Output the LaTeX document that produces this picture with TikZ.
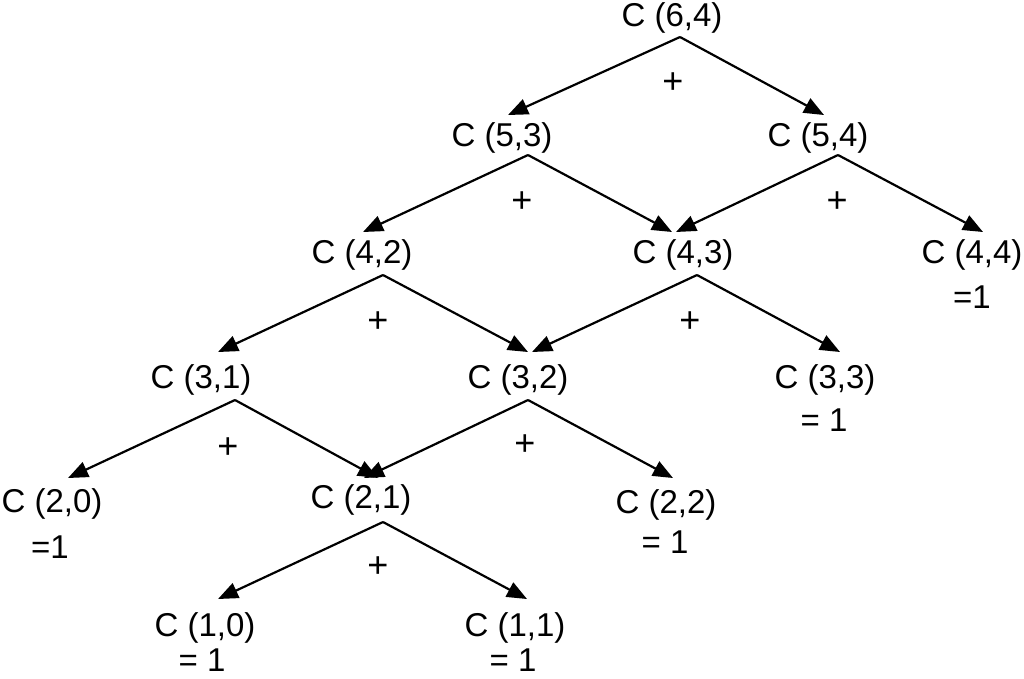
\documentclass[tikz,border=0pt]{standalone}
\usepackage{fontspec}
\setmainfont{Liberation Sans}
\usetikzlibrary{arrows.meta}
\begin{document}
\begin{tikzpicture}[x=1pt,y=-1pt,
  lbl/.style={inner sep=0pt,anchor=center,font=\fontsize{33}{39}\selectfont},
  plus/.style={inner sep=0pt,anchor=center,font=\fontsize{36}{40}\selectfont},
  arr/.style={line width=2.2pt,-{Triangle[length=20pt,width=16pt]}}]
\useasboundingbox (0,0) rectangle (1024,678);
% nodes
\node[lbl] (n64) at (672,18) {C (6,4)};
\node[lbl] (n53) at (502,138) {C (5,3)};
\node[lbl] (n54) at (818,138) {C (5,4)};
\node[lbl] (n42) at (362,255) {C (4,2)};
\node[lbl] (n43) at (683,255) {C (4,3)};
\node[lbl] (n44) at (972,255) {C (4,4)};
\node[lbl] (e44) at (972,297) {=1};
\node[lbl] (n31) at (201,380) {C (3,1)};
\node[lbl] (n32) at (518,380) {C (3,2)};
\node[lbl] (n33) at (825,380) {C (3,3)};
\node[lbl] (e33) at (824,420) {= 1};
\node[lbl] (n20) at (52,504) {C (2,0)};
\node[lbl] (e20) at (50,547) {=1};
\node[lbl] (n21) at (361,500) {C (2,1)};
\node[lbl] (n22) at (666,505) {C (2,2)};
\node[lbl] (e22) at (665,542) {= 1};
\node[lbl] (n10) at (205,628) {C (1,0)};
\node[lbl] (e10) at (202,660) {= 1};
\node[lbl] (n11) at (515,628) {C (1,1)};
\node[lbl] (e11) at (513,660) {= 1};
% plus signs
\node[plus] (p1) at (673,83) {+};
\node[plus] (p2) at (522,202) {+};
\node[plus] (p3) at (837,202) {+};
\node[plus] (p4) at (378,322) {+};
\node[plus] (p5) at (690,322) {+};
\node[plus] (p6) at (228,448) {+};
\node[plus] (p7) at (525,445) {+};
\node[plus] (p8) at (378,567) {+};
% connector start points (below parents)
\coordinate (o64) at (680,37);
\coordinate (o53) at (528,155);
\coordinate (o54) at (838,155);
\coordinate (o42) at (383,275);
\coordinate (o43) at (697,275);
\coordinate (o31) at (235,400);
\coordinate (o32) at (528,400);
\coordinate (o21) at (383,522);
% arrow tips (above children)
\coordinate (t53) at (508,115);
\coordinate (t54) at (824,115);
\coordinate (t42) at (363,232);
\coordinate (t43a) at (672,232);
\coordinate (t43b) at (676,232);
\coordinate (t44) at (983,232);
\coordinate (t31) at (218,352);
\coordinate (t32a) at (528,352);
\coordinate (t32b) at (532,352);
\coordinate (t33) at (840,352);
\coordinate (t20) at (68,478);
\coordinate (t21a) at (378,478);
\coordinate (t21b) at (364,478);
\coordinate (t22) at (673,478);
\coordinate (t10) at (218,599);
\coordinate (t11) at (527,599);
% connectors
\draw[arr] (o64) -- (t53);
\draw[arr] (o64) -- (t54);
\draw[arr] (o53) -- (t42);
\draw[arr] (o53) -- (t43a);
\draw[arr] (o54) -- (t43b);
\draw[arr] (o54) -- (t44);
\draw[arr] (o42) -- (t31);
\draw[arr] (o42) -- (t32a);
\draw[arr] (o43) -- (t32b);
\draw[arr] (o43) -- (t33);
\draw[arr] (o31) -- (t20);
\draw[arr] (o31) -- (t21a);
\draw[arr] (o32) -- (t21b);
\draw[arr] (o32) -- (t22);
\draw[arr] (o21) -- (t10);
\draw[arr] (o21) -- (t11);
\end{tikzpicture}
\end{document}
